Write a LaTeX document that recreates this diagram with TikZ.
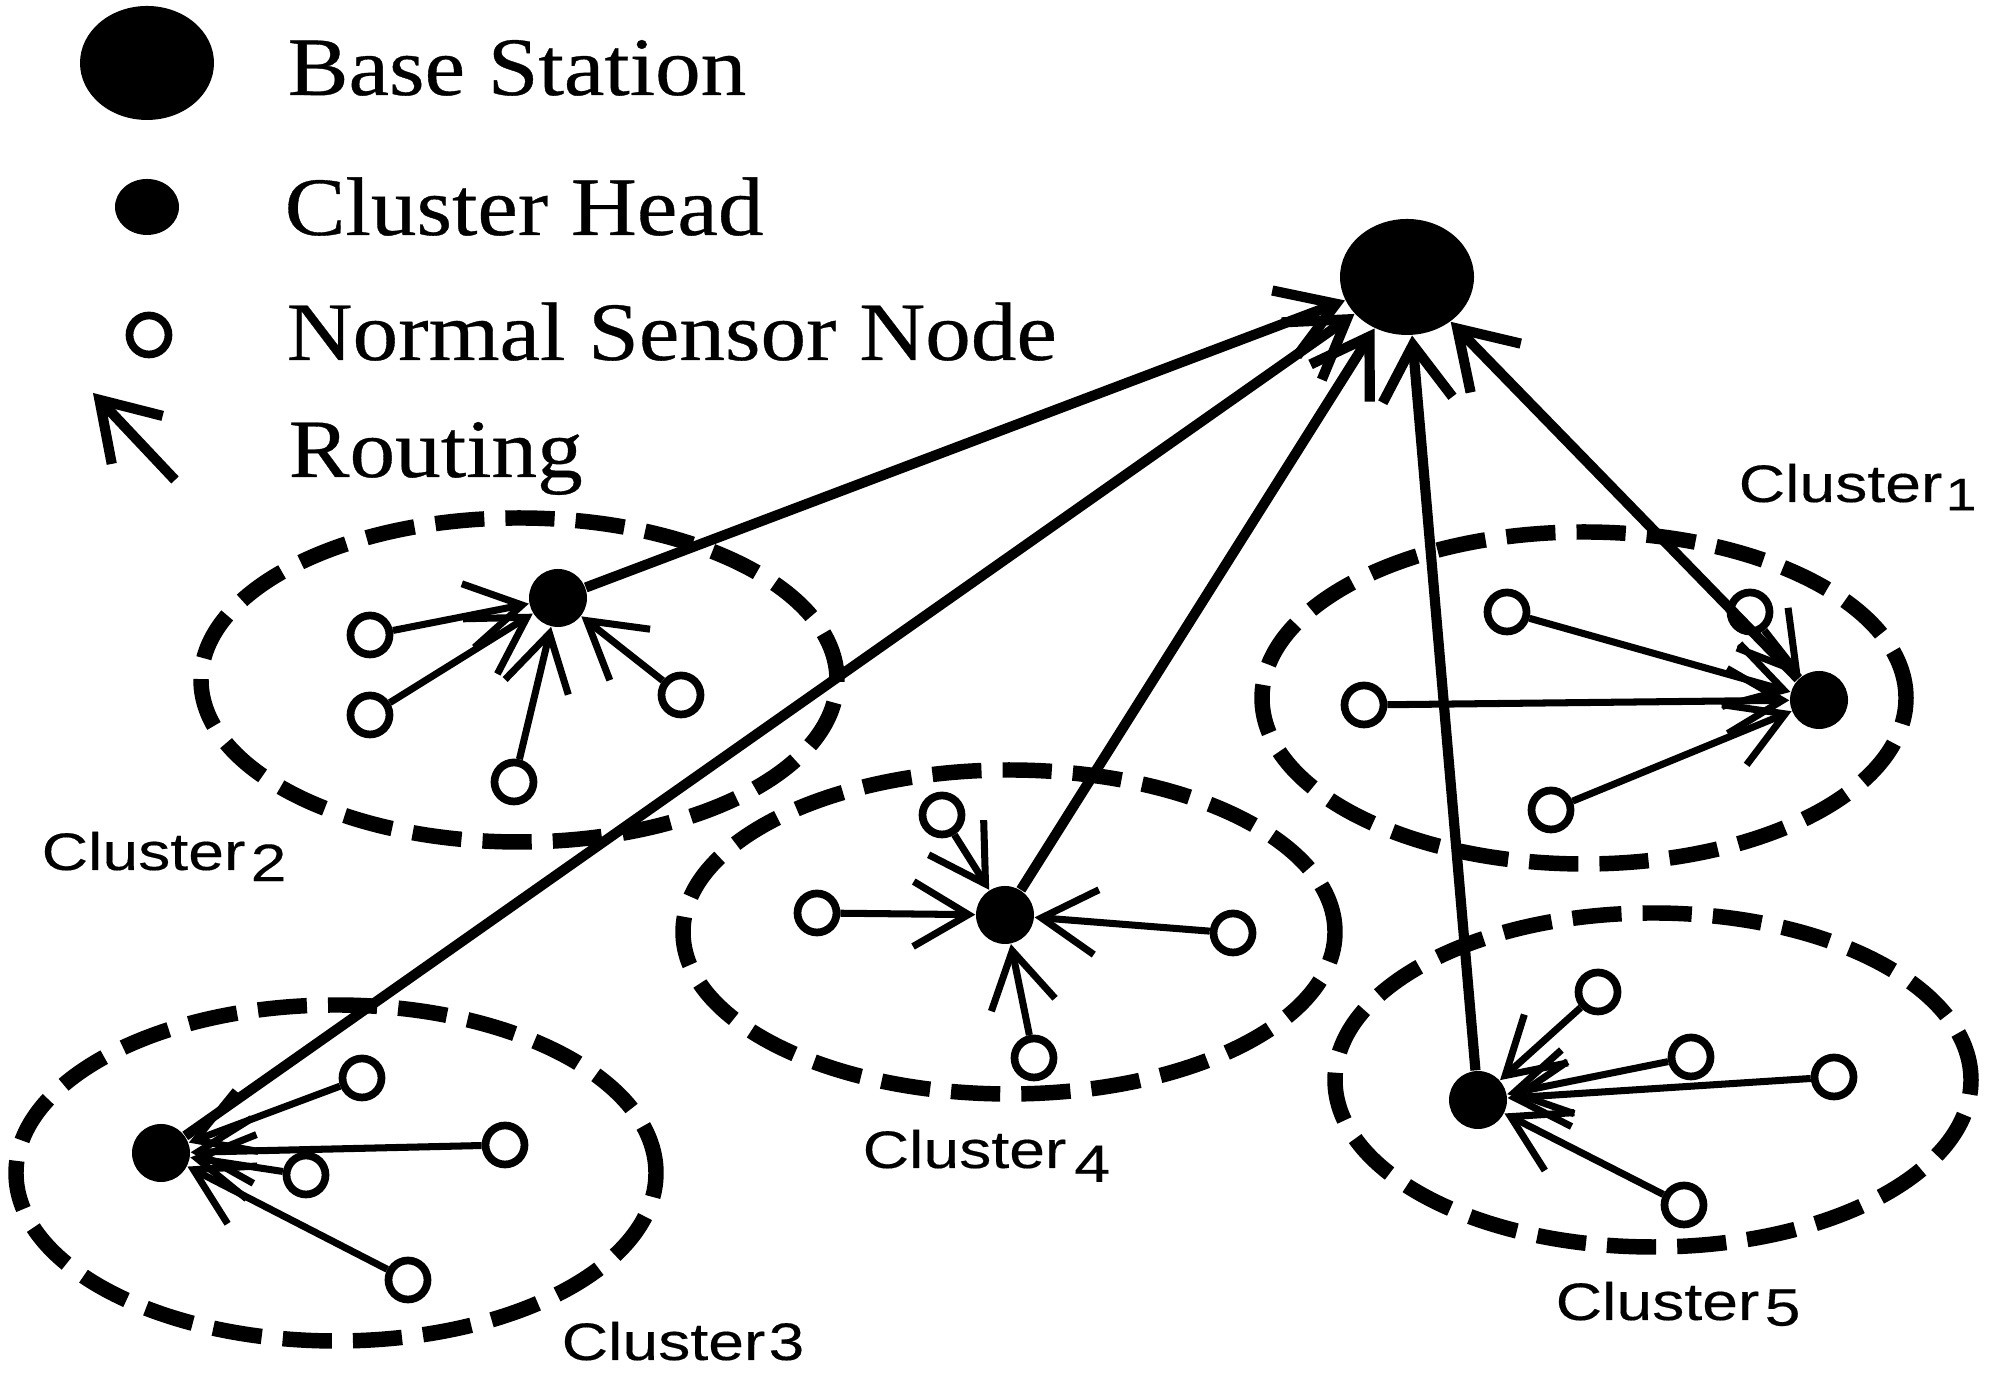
\documentclass[tikz,border=0pt]{standalone}
\usepackage{fontspec}
\usetikzlibrary{arrows.meta,shapes.geometric}
\newfontfamily\legendfont[FakeStretch=1.1,FakeBold=0.4]{Liberation Serif}
\newfontfamily\clusterfont[FakeStretch=1.22,FakeBold=0.3]{Liberation Sans}

\tikzset{
  route/.style={line width=2.9pt, -{Straight Barb[length=5.5mm,width=7mm]}},
  member/.style={line width=2pt, -{Straight Barb[length=5.5mm,width=6.5mm]}},
  clring/.style={line width=4.4pt, dash pattern=on 14pt off 6pt},
  sensor/.style={circle, draw, fill=white, line width=2.2pt, inner sep=0pt, minimum size=3.9mm},
  chead/.style={circle, fill=black, inner sep=0pt, minimum size=5.8mm},
  bigdot/.style={ellipse, fill=black, inner sep=0pt},
  legtext/.style={anchor=base west, inner sep=0pt, font=\legendfont\fontsize{23.6}{28}\selectfont},
  cltext/.style={anchor=base west, inner sep=0pt, font=\clusterfont\fontsize{15}{18}\selectfont}
}

\begin{document}
\begin{tikzpicture}
  \useasboundingbox (0,0) rectangle (19.92,13.78);
  % legend
  \node[bigdot, minimum width=13.4mm, minimum height=11.4mm] (legbs) at (1.47,13.15) {};
  \node[bigdot, minimum width=6.4mm, minimum height=5.6mm] (legch) at (1.47,11.71) {};
  \node[sensor] (legsn) at (1.49,10.43) {};
  \coordinate (legfrom) at (1.75,8.98);
  \coordinate (legto) at (0.93,9.85);
  \draw[route] (legfrom) -- (legto);
  \node[legtext] (lbs) at (2.87,12.83) {Base Station};
  \node[legtext] (lch) at (2.84,11.43) {Cluster Head};
  \node[legtext] (lsn) at (2.86,10.18) {Normal Sensor Node};
  \node[legtext] (lro) at (2.88,9.01) {Routing};

  % cluster rings
  \draw[clring] (5.19,6.98) ellipse [x radius=3.18, y radius=1.62];
  \draw[clring] (15.84,6.80) ellipse [x radius=3.22, y radius=1.66];
  \draw[clring] (10.09,4.46) ellipse [x radius=3.26, y radius=1.62];
  \draw[clring] (3.36,2.05) ellipse [x radius=3.20, y radius=1.68];
  \draw[clring] (16.53,2.98) ellipse [x radius=3.18, y radius=1.67];

  % base station
  \node[bigdot, minimum width=13.4mm, minimum height=11.6mm] (bs) at (14.07,11.01) {};

  % cluster 1
  \node[chead] (h1) at (18.19,6.78) {};
  \node[sensor] (c1a) at (15.07,7.66) {};
  \node[sensor] (c1b) at (17.50,7.66) {};
  \node[sensor] (c1c) at (13.64,6.73) {};
  \node[sensor] (c1d) at (15.51,5.68) {};
  % cluster 2
  \node[chead] (h2) at (5.58,7.80) {};
  \node[sensor] (c2a) at (3.70,7.43) {};
  \node[sensor] (c2b) at (3.70,6.63) {};
  \node[sensor] (c2c) at (6.81,6.83) {};
  \node[sensor] (c2d) at (5.14,5.96) {};
  % cluster 3
  \node[chead] (h3) at (1.61,2.25) {};
  \node[sensor] (c3a) at (3.62,3.00) {};
  \node[sensor] (c3b) at (5.05,2.33) {};
  \node[sensor] (c3c) at (3.06,2.03) {};
  \node[sensor] (c3d) at (4.08,0.98) {};
  % cluster 4
  \node[chead] (h4) at (10.05,4.63) {};
  \node[sensor] (c4a) at (9.42,5.63) {};
  \node[sensor] (c4b) at (8.17,4.65) {};
  \node[sensor] (c4c) at (12.33,4.45) {};
  \node[sensor] (c4d) at (10.34,3.20) {};
  % cluster 5
  \node[chead] (h5) at (14.78,2.78) {};
  \node[sensor] (c5a) at (15.98,3.86) {};
  \node[sensor] (c5b) at (16.91,3.21) {};
  \node[sensor] (c5c) at (18.34,3.01) {};
  \node[sensor] (c5d) at (16.84,1.73) {};

  % members to heads
  \draw[member] (c1a) -- (h1);
  \draw[member] (c1b) -- (h1);
  \draw[member] (c1c) -- (h1);
  \draw[member] (c1d) -- (h1);
  \draw[member] (c2a) -- (h2);
  \draw[member] (c2b) -- (h2);
  \draw[member] (c2c) -- (h2);
  \draw[member] (c2d) -- (h2);
  \draw[member] (c3a) -- (h3);
  \draw[member] (c3b) -- (h3);
  \draw[member] (c3c) -- (h3);
  \draw[member] (c3d) -- (h3);
  \draw[member] (c4a) -- (h4);
  \draw[member] (c4b) -- (h4);
  \draw[member] (c4c) -- (h4);
  \draw[member] (c4d) -- (h4);
  \draw[member] (c5a) -- (h5);
  \draw[member] (c5b) -- (h5);
  \draw[member] (c5c) -- (h5);
  \draw[member] (c5d) -- (h5);

  % heads to base station
  \draw[route] (h1) -- (bs);
  \draw[route] (h2) -- (bs);
  \draw[route] (h3) -- (bs);
  \draw[route] (h4) -- (bs);
  \draw[route] (h5) -- (bs);

  % cluster names
  \node[cltext] (n1) at (17.38,8.76) {Cluster\hspace{0.06em}\raisebox{-0.3ex}{\fontsize{13}{15}\selectfont 1}};
  \node[cltext] (n2) at (0.41,5.08) {Cluster\hspace{0.1em}\raisebox{-0.4ex}{2}};
  \node[cltext] (n3) at (5.61,0.18) {Cluster\hspace{0.06em}3};
  \node[cltext] (n4) at (8.62,2.10) {Cluster\hspace{0.15em}\raisebox{-0.5ex}{4}};
  \node[cltext] (n5) at (15.55,0.58) {Cluster\hspace{0.1em}\raisebox{-0.2ex}{5}};
\end{tikzpicture}
\end{document}
